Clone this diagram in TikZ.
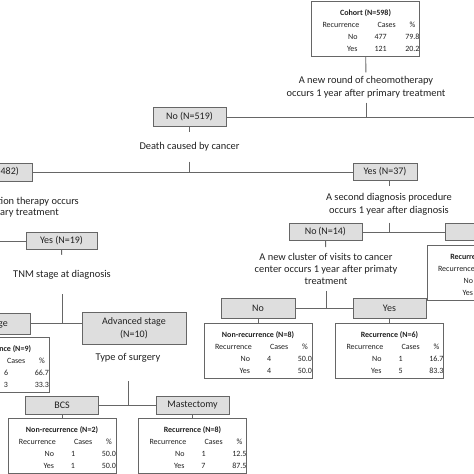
\documentclass[tikz,border=0pt]{standalone}
\usepackage{fontspec}
\setmainfont{Carlito}
\usepackage{tikz}
\definecolor{dtFill}{HTML}{DEDEDE}
\definecolor{dtLine}{HTML}{666666}
\definecolor{dtText}{HTML}{222222}

\newcommand{\rectable}[5]{%
  \begin{tabular}{@{}p{50pt}@{}p{40pt}@{}p{18pt}@{}}
    \multicolumn{3}{@{}c@{}}{\rule{0pt}{13pt}\textbf{#1}}\\
    \hspace*{11pt}Recurrence & \hspace*{16pt}Cases & \hspace*{8pt}\%\\
    \hfill No\hspace*{4pt} & \hspace*{13pt}#2 & \hfill #3\\
    \hfill Yes\hspace*{4pt} & \hspace*{13pt}#4 & \hfill #5
  \end{tabular}}

\begin{document}
\begin{tikzpicture}[x=1pt, y=-1pt,
  every node/.append style={text=dtText},
  choice/.style={draw=dtLine, fill=dtFill, inner sep=0pt, align=center, minimum width=73pt, minimum height=18pt, font=\fontsize{10}{12.5}\selectfont},
  ask/.style={align=center, inner xsep=0pt, font=\fontsize{10.4}{13}\selectfont},
  result/.style={draw=dtLine, fill=white, inner xsep=0pt, inner ysep=1pt, font=\fontsize{8}{12.3}\selectfont},
  link/.style={draw=dtLine, line width=0.9pt}
]
  \useasboundingbox (0,0) rectangle (474,474);
  \clip (0,0) rectangle (474,474);
  \fill[white] (0,0) rectangle (474,474);

  \node[result] (cohort) at (365.5,28.8) {\rectable{Cohort (N=598)}{477}{79.8}{121}{20.2}};
  \node[ask, inner ysep=4pt] (q0) at (366,87.5) {A new round of cheomotherapy\\occurs 1 year after primary treatment};
  \node[choice, minimum height=19pt] (n519) at (189.5,117) {No (N=519)};
  \coordinate (yes79) at (520,117);
  \node[ask, inner ysep=10pt] (q1) at (189.5,147) {Death caused by cancer};
  \node[choice] (n482) at (-4.5,172) {No (N=482)};
  \node[choice, minimum width=64pt, minimum height=17pt] (n37) at (385,172) {Yes (N=37)};
  \node[ask, inner ysep=7pt] (q2) at (389,204.5) {A second diagnosis procedure\\occurs 1 year after diagnosis};
  \node[choice, minimum height=17pt] (n14) at (325.5,232) {No\,(N=14)};
  \node[choice, minimum height=17pt] (yes23) at (481.5,232) {};
  \node[result] (rec23) at (481,272.8) {\rectable{Recurrence (N=23)}{}{}{}{}};
  \node[ask, anchor=east] (qLa) at (79,202) {ction therapy occurs};
  \node[ask, anchor=east] (qLb) at (59,213) {ary treatment};
  \coordinate (no19) at (-60,241);
  \node[choice, minimum width=71pt, minimum height=17pt] (n19) at (61.5,241) {Yes (N=19)};
  \node[ask, inner ysep=15pt] (q3) at (62,274.5) {TNM stage at diagnosis};
  \node[choice, minimum width=88pt, minimum height=21pt] (early) at (-14,323.5) {Early stage};
  \node[choice, minimum width=104pt, minimum height=32pt] (adv) at (134,328) {Advanced stage\\(N=10)};
  \node[result] (norec9) at (-5,364.8) {\rectable{Non-recurrence (N=9)}{6}{66.7}{3}{33.3}};
  \node[ask, inner ysep=18.5pt] (q4) at (128,358) {Type of surgery};
  \node[choice] (bcs) at (62,405) {BCS};
  \node[choice] (mast) at (192.5,405) {Mastectomy};
  \node[result] (norec2) at (62,445.8) {\rectable{Non-recurrence (N=2)}{1}{50.0}{1}{50.0}};
  \node[result] (rec8) at (192.5,445.8) {\rectable{Recurrence (N=8)}{1}{12.5}{7}{87.5}};
  \node[ask, inner ysep=6pt, font=\fontsize{10.4}{12}\selectfont] (q5) at (326,269) {A new cluster of visits to cancer\\center occurs 1 year after primaty\\treatment};
  \node[choice, minimum width=74pt, minimum height=20pt] (nob) at (258,308) {No};
  \node[choice, minimum height=20pt] (yesb) at (389.5,308) {Yes};
  \node[result] (norec8) at (258,350.8) {\rectable{Non-recurrence (N=8)}{4}{50.0}{4}{50.0}};
  \node[result] (rec6) at (389.5,350.8) {\rectable{Recurrence (N=6)}{1}{16.7}{5}{83.3}};

  \draw[link] (cohort) -- (q0);
  \draw[link] (q0) -- (q0 |- n519);
  \draw[link] (n519) -- (yes79);
  \draw[link] (n519) -- (q1);
  \draw[link] (q1) -- (q1 |- n37);
  \draw[link] (n482) -- (n37);
  \draw[link] (q2 |- n37.south) -- (q2);
  \draw[link] (q2) -- (q2 |- n14);
  \draw[link] (n14) -- (yes23);
  \draw[link] (yes23) -- (rec23);
  \draw[link] (no19) -- (n19);
  \draw[link] (n19) -- (q3);
  \draw[link] (q3) -- (q3 |- early);
  \draw[link] (early.east) -- (early.east -| adv.west);
  \draw[link] (norec9 |- early.south) -- (norec9);
  \draw[link] (q4) -- (q4 |- bcs);
  \draw[link] (bcs) -- (mast);
  \draw[link] (bcs) -- (norec2);
  \draw[link] (mast) -- (rec8);
  \draw[link] (n14) -- (q5);
  \draw[link] (q5) -- (q5 |- nob);
  \draw[link] (nob) -- (yesb);
  \draw[link] (nob) -- (norec8);
  \draw[link] (yesb) -- (rec6);
\end{tikzpicture}
\end{document}
